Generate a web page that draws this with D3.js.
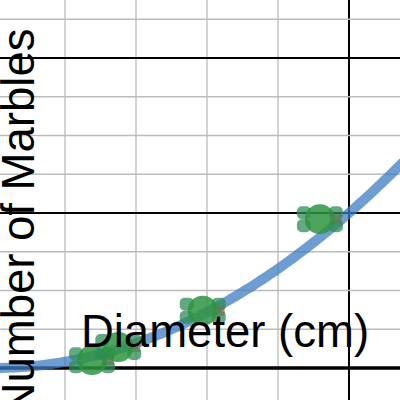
<!DOCTYPE html>
<html><head><meta charset="utf-8">
<script src="https://cdn.jsdelivr.net/npm/d3@7.9.0/dist/d3.min.js"></script>
<style>body{margin:0;background:#fff}svg{display:block}</style>
</head><body><svg width="400" height="400"></svg>
<script>
// diameter (cm) vs number of marbles
const diameters = [1.38, 1.75, 2.94, 4.59];
const marbles = [1.0, 2.7, 7.4, 19.2];
const fitCoef = 0.8; // y = a * x^2
const minorX = [1, 2, 3, 4, 5, 6];
const minorY = [-5, 0, 5, 10, 15, 20, 25, 30, 35, 40, 45];

const svg = d3.select('svg');
const x = d3.scaleLinear().domain([0, 5]).range([-6, 349]);
const y = d3.scaleLinear().domain([0, 20]).range([368, 213]);

// grid
minorX.forEach(v => svg.append('line')
  .attr('x1', x(v)).attr('x2', x(v)).attr('y1', 0).attr('y2', 400)
  .attr('stroke', v % 5 === 0 ? '#000' : '#bbb').attr('stroke-width', v % 5 === 0 ? 2 : 1.3));
minorY.forEach(v => svg.append('line')
  .attr('y1', y(v)).attr('y2', y(v)).attr('x1', 0).attr('x2', 400)
  .attr('stroke', v % 20 === 0 ? '#000' : '#bbb')
  .attr('stroke-width', v === 0 ? 3.5 : (v % 20 === 0 ? 2 : 1.3)));

// fitted curve
const xs = d3.range(-0.2, 6.01, 0.05);
svg.append('path')
  .attr('d', d3.line().x(d => x(d)).y(d => y(fitCoef * d * d))(xs))
  .attr('fill', 'none').attr('stroke', '#3d7cc2').attr('stroke-opacity', 0.75)
  .attr('stroke-width', 10);

// points
diameters.forEach((d, i) => {
  const cx = x(d), cy = y(marbles[i]);
  const g = svg.append('g');
  g.append('rect').attr('x', cx + 10).attr('y', cy - 5).attr('width', 12).attr('height', 10)
    .attr('fill', '#e05050').attr('opacity', 0.7);
  [-1, 1].forEach(s => {
    g.append('rect').attr('x', cx + s * 16 - 7).attr('y', cy - 13).attr('width', 14).attr('height', 13)
      .attr('rx', 5).attr('fill', '#2e8b57').attr('opacity', 0.75);
    g.append('rect').attr('x', cx + s * 16 - 7).attr('y', cy).attr('width', 14).attr('height', 13)
      .attr('rx', 5).attr('fill', '#2e8b57').attr('opacity', 0.75);
  });
  g.append('ellipse').attr('cx', cx).attr('cy', cy).attr('rx', 15).attr('ry', 15)
    .attr('fill', '#2e9440').attr('opacity', 0.85);
});

// labels
svg.append('text').attr('x', 225).attr('y', 347).attr('text-anchor', 'middle')
  .attr('font-family', 'Liberation Sans, Arial, sans-serif').attr('font-size', 45.5)
  .text('Diameter (cm)');
svg.append('text').attr('transform', 'translate(34,222) rotate(-90)').attr('text-anchor', 'middle')
  .attr('font-family', 'Liberation Sans, Arial, sans-serif').attr('font-size', 45.5)
  .text('Number of Marbles');
</script></body></html>
